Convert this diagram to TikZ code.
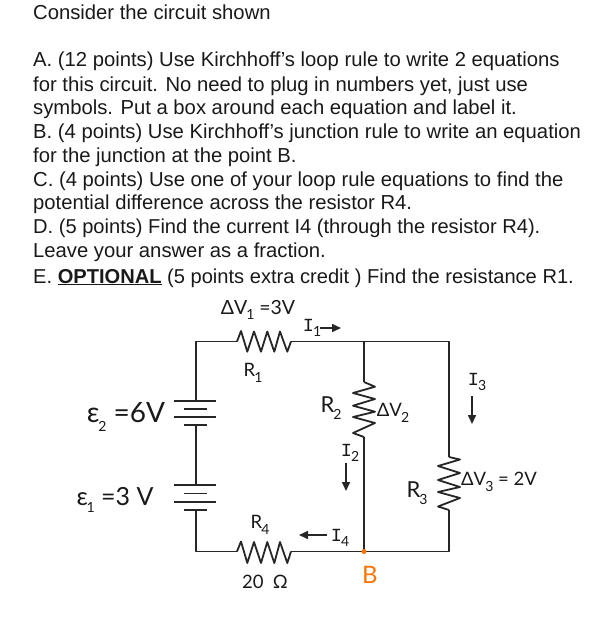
\documentclass[tikz,border=0pt]{standalone}
\usepackage{fontspec}
\setmainfont{Liberation Sans}
\newfontfamily\handfont{Lato}
\newfontfamily\barI{Liberation Mono}
\usetikzlibrary{arrows.meta}
\newcommand{\lowsub}[1]{\kern-0.05em\raisebox{-0.3em}{\fontsize{14}{14}\selectfont #1}}
\newcommand{\curI}{{\barI I}}
\tikzset{
  x=1pt,y=-1pt,
  qline/.style={anchor=base west,inner sep=0pt,font=\fontsize{20.25}{24}\selectfont,text=black!90},
  qlinetight/.style={qline,font=\fontsize{20.1}{24}\selectfont},
  hand/.style={inner sep=0pt,font=\handfont\fontsize{18.5}{22}\selectfont,text=black!90},
  handmid/.style={inner sep=0pt,font=\handfont\fontsize{22}{24}\selectfont,text=black!90},
  handbig/.style={inner sep=0pt,font=\handfont\fontsize{25}{28}\selectfont,text=black!90},
  handhuge/.style={inner sep=0pt,font=\handfont\fontsize{28}{30}\selectfont,text=black!90},
  wire/.style={draw=black!85,line width=1.8pt,line join=round},
  flow/.style={draw=black!85,line width=1.6pt,-{Triangle[length=9pt,width=8pt]}},
}
\begin{document}
\begin{tikzpicture}
\useasboundingbox (0,0) rectangle (605,619);
% question text
\node[qline] (q0) at (33,19) {Consider the circuit shown};
\node[qline] (q1) at (33,66) {A. (12 points) Use Kirchhoff's loop rule to write 2 equations};
\node[qline] (q2) at (33,91) {for this circuit. No need to plug in numbers yet, just use};
\node[qline] (q3) at (33,114) {symbols. Put a box around each equation and label it.};
\node[qline] (q4) at (33,138) {B. (4 points) Use Kirchhoff's junction rule to write an equation};
\node[qline] (q5) at (33,162) {for the junction at the point B.};
\node[qline] (q6) at (33,186) {C. (4 points) Use one of your loop rule equations to find the};
\node[qline] (q7) at (33,209) {potential difference across the resistor R4.};
\node[qlinetight] (q8) at (33,233) {D. (5 points) Find the current I4 (through the resistor R4).};
\node[qline] (q9) at (33,257) {Leave your answer as a fraction.};
\node[qlinetight] (q10) at (33,283) {E. \underline{\textbf{OPTIONAL}} (5 points extra credit ) Find the resistance R1.};
% corners
\coordinate (tl) at (195.7,341.5);
\coordinate (tm) at (364,341.5);
\coordinate (tr) at (449,341.5);
\coordinate (bl) at (195.7,551.5);
\coordinate (bm) at (364,551.5);
\coordinate (br) at (449,551.5);
\coordinate (r1a) at (237,341.5);
\coordinate (r1b) at (291,341.5);
\coordinate (r4a) at (237,551.5);
\coordinate (r4b) at (291,551.5);
\coordinate (r2a) at (364,382);
\coordinate (r2b) at (364,437);
\coordinate (r3a) at (449,457);
\coordinate (r3b) at (449,510);
\coordinate (e2t) at (195.7,400.7);
\coordinate (e2b) at (195.7,425);
\coordinate (e1t) at (195.7,485);
\coordinate (e1b) at (195.7,510);
% wires
\draw[wire] (e2t) -- (tl) -- (r1a);
\draw[wire] (r1b) -- (tm) -- (tr) -- (r3a);
\draw[wire] (tm) -- (r2a);
\draw[wire] (r2b) -- (bm);
\draw[wire] (r3b) -- (br) -- (bm) -- (r4b);
\draw[wire] (r4a) -- (bl) -- (e1b);
\draw[wire] (e2b) -- (e1t);
% resistors
\draw[wire] (r1a) -- (241,331) -- (247.3,351.7) -- (254,331.5) -- (261,351.7) -- (267.3,331.5) -- (274.3,351.7) -- (280,331.5) -- (287.3,351.7) -- (r1b);
\draw[wire] (r4a) -- (241,541.5) -- (247.3,563) -- (254,542) -- (261,563) -- (267.3,542) -- (274.3,563) -- (280,542) -- (287.3,563) -- (r4b);
\draw[wire] (r2a) -- (375,386.7) -- (353,393) -- (375,399) -- (353,405.7) -- (375,411.7) -- (353,417) -- (375,423) -- (353,433) -- (r2b);
\draw[wire] (r3a) -- (460,459.5) -- (438,466) -- (460,473) -- (438,480) -- (460,487) -- (438,492) -- (460,498) -- (438,506.5) -- (r3b);
% batteries
\draw[wire] (174,400.7) -- (216,400.7);
\draw[wire] (184,409) -- (207,409);
\draw[wire] (174,417.3) -- (216,417.3);
\draw[wire] (184,425) -- (207,425);
\draw[wire] (174,485) -- (216,485);
\draw[wire] (184,493.5) -- (207,493.5);
\draw[wire] (174,502) -- (216,502);
\draw[wire] (184,510) -- (207,510);
% current arrows
\coordinate (a1s) at (320,328); \coordinate (a1e) at (341,328);
\coordinate (a2s) at (346,463); \coordinate (a2e) at (346,491);
\coordinate (a3s) at (472,396); \coordinate (a3e) at (472,424);
\coordinate (a4s) at (327,535); \coordinate (a4e) at (299,535);
\draw[flow] (a1s) -- (a1e);
\draw[flow] (a2s) -- (a2e);
\draw[flow] (a3s) -- (a3e);
\draw[flow] (a4s) -- (a4e);
% junction
\fill[orange!90!red] (bm) circle (2.5);
\node[inner sep=0pt,font=\handfont\fontsize{24}{26}\selectfont,text=orange!90!red] (lb) at (370,575) {B};
% labels
\node[hand,font=\handfont\fontsize{19.5}{22}\selectfont] (l1) at (258,310) {ΔV\lowsub{1} =3V};
\node[hand] (l2) at (253,373) {R\lowsub{1}};
\node[hand] (l3) at (312,328) {\curI\lowsub{1}};
\node[handhuge] (l4) at (126,417) {ε\lowsub{2} =6V};
\node[handbig] (l5) at (115,500) {ε\lowsub{1} =3 V};
\node[handmid] (l6) at (331,408) {R\lowsub{2}};
\node[hand] (l7) at (393,413) {ΔV\lowsub{2}};
\node[hand] (l8) at (350,453) {\curI\lowsub{2}};
\node[hand] (l9) at (477,382) {\curI\lowsub{3}};
\node[handmid] (l10) at (417,493) {R\lowsub{3}};
\node[hand] (l11) at (499,482) {ΔV\lowsub{3} = 2V};
\node[hand] (l12) at (260,525) {R\lowsub{4}};
\node[hand] (l13) at (340,538) {\curI\lowsub{4}};
\node[hand] (l14) at (265,582) {20\ \ Ω};
\end{tikzpicture}
\end{document}
